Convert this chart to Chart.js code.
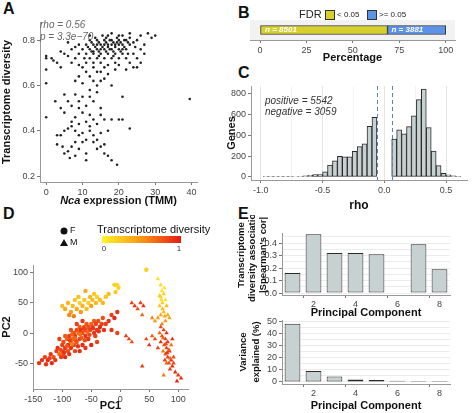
<!DOCTYPE html>
<html>
<head>
<meta charset="utf-8">
<script src="https://cdn.jsdelivr.net/npm/chart.js@4.4.0/dist/chart.umd.min.js"></script>
<style>
  body { margin: 0; background: #fff; width: 474px; height: 413px; position: relative; overflow: hidden; font-family: "Liberation Sans", Arial, sans-serif; }
  canvas { position: absolute; }
  .lab { position: absolute; font-weight: bold; font-size: 16px; color: #111; }
</style>
</head>
<body>
<div class="lab" style="left:3px;top:0px">A</div>
<div class="lab" style="left:238px;top:4px">B</div>
<div class="lab" style="left:238px;top:64px">C</div>
<div class="lab" style="left:3px;top:205px">D</div>
<div class="lab" style="left:238px;top:205px">E</div>

<canvas id="cA" width="237" height="210" style="left:0;top:0"></canvas>
<canvas id="cB" width="237" height="65" style="left:237px;top:0"></canvas>
<canvas id="cC" width="269" height="148" style="left:205px;top:65px"></canvas>
<canvas id="cD" width="237" height="208" style="left:0;top:205px"></canvas>
<canvas id="cE1" width="237" height="105" style="left:237px;top:215px"></canvas>
<canvas id="cE2" width="237" height="103" style="left:237px;top:310px"></canvas>

<script>
// ---- data ----
// A: Nca expression (TMM) vs transcriptome diversity
const ncaPoints = [
  [0,0.73],[0,0.72],[0,0.67],[0,0.61],[0,0.46],
  [1.5,0.72],[2,0.71],[3,0.70],[4,0.75],[5,0.74],[4,0.68],[6,0.73],[5,0.56],[6,0.79],[7,0.76],[8,0.77],[8,0.72],[9,0.78],[7,0.70],[9,0.74],
  [10,0.76],[11,0.78],[12,0.80],[12,0.76],[13,0.74],[13,0.78],[14,0.80],[14,0.76],[15,0.78],[15,0.74],[16,0.80],[16,0.76],[17,0.78],[17,0.82],[18,0.80],[18,0.76],[19,0.78],[19,0.74],[20,0.80],[20,0.76],[21,0.78],[21,0.82],[22,0.80],[22,0.76],[23,0.78],[23,0.81],[24,0.79],[25,0.80],[26,0.82],[27,0.78],[28,0.83],[29,0.81],[30,0.82],
  [11,0.74],[12,0.72],[13,0.70],[14,0.72],[15,0.70],[16,0.72],[17,0.74],[18,0.72],[19,0.70],[20,0.72],[21,0.74],[22,0.72],[23,0.70],[24,0.74],[25,0.72],[26,0.70],
  [11.5,0.77],[12.5,0.79],[13.5,0.81],[14.5,0.79],[15.5,0.82],[16.5,0.79],[17.5,0.76],[18.5,0.79],[19.5,0.81],[20.5,0.79],[21.5,0.77],[22.5,0.79],[24.5,0.77],
  [13,0.75],[15,0.76],[17,0.77],[19,0.77],[21,0.76],[14,0.78],[16,0.78],[18,0.78],[20,0.78],[12,0.82],[18,0.83],[20,0.82],[23,0.83],[26,0.76],[27,0.74],[25,0.68],
  [12.5,0.75],[14.5,0.75],[16.5,0.75],[18.5,0.75],[20.5,0.75],[13.5,0.77],[15.5,0.77],[17.5,0.80],[19.5,0.79],[21.5,0.80],[16.5,0.81],[14.5,0.73],[18.5,0.73],[22.5,0.74],[10.5,0.72],
  [10,0.68],[11,0.66],[12,0.64],[13,0.68],[14,0.66],[15,0.62],[16,0.68],[17,0.65],[18,0.60],[19,0.67],[20,0.69],[9,0.64],[8,0.62],[10,0.61],[12,0.58],[14,0.60],[16,0.63],[13,0.62],[15,0.66],[17,0.69],[24,0.68],[22,0.67],[11,0.70],[9,0.69],
  [6,0.53],[5,0.48],[7,0.51],[8,0.56],[9,0.53],[10,0.55],[11,0.51],[12,0.55],[13,0.53],[14,0.57],[15,0.50],[12,0.47],[10,0.48],[8,0.46],[7,0.44],[9,0.43],[11,0.44],[13,0.45],[14,0.43],[15,0.47],[16,0.45],[17,0.40],[18,0.45],[20,0.45],[21,0.45],[23,0.41],
  [3,0.38],[4,0.38],[5,0.40],[6,0.41],[7,0.42],[8,0.40],[9,0.38],[10,0.39],[11,0.36],[12,0.40],[13,0.38],[14,0.36],[15,0.33],[16,0.34],[4.5,0.33],[5,0.30],[6,0.31],[7,0.33],[8,0.29],[9,0.32],[6.5,0.28],[11,0.30],[14,0.32],[16,0.30],[17,0.29],[18,0.27],[19.5,0.25],[11,0.27],[3,0.34],[2.5,0.53],[4,0.50],[9,0.50],[12,0.42],[8,0.35],[10,0.35],[13,0.35],[15,0.39],
  [39.5,0.54],[21,0.55]
];
const ncaTicksX = [0, 10, 20, 30, 40];
const ncaTicksY = [0.2, 0.4, 0.6, 0.8];

// B: FDR split
const fdrLabels = ['< 0.05', '>= 0.05'];
const fdrCounts = [8501, 3881];
const fdrColors = ['#d6cf2c', '#5b93ea'];

// C: histogram of rho (bin centres, width 0.04)
const rhoNegCenters = [-0.08,-0.12,-0.16,-0.20,-0.24,-0.28,-0.32,-0.36,-0.40,-0.44,-0.48,-0.52,-0.56,-0.60,-0.64,-0.68,-0.72,-0.76,-0.80,-0.84,-0.88,-0.92,-0.96];
const rhoNegCounts  = [576, 488, 319, 293, 247, 195, 195, 198, 156, 114, 49, 23, 23, 16, 10, 7, 5, 4, 3, 3, 2, 2, 2];
const rhoPosCenters = [0.08,0.12,0.16,0.20,0.24,0.28,0.32,0.36,0.40,0.44,0.48,0.52,0.56,0.60];
const rhoPosCounts  = [365, 455, 415, 485, 590, 745, 848, 477, 250, 110, 35, 20, 10, 4];
const rhoCutoff = 0.06;

// D: PCA [PC1, PC2, diversity, sex]
const pcaPoints = [
  [-140,-50,0.9,'F'],[-130,-40,0.85,'F'],[-125,-45,0.95,'F'],[-120,-35,0.9,'F'],[-115,-40,0.8,'F'],[-110,-30,0.85,'F'],[-108,-25,0.9,'F'],[-105,-35,0.7,'F'],[-100,-20,0.85,'F'],[-100,-30,0.75,'F'],
  [-98,-15,0.8,'F'],[-95,-25,0.9,'F'],[-92,-10,0.7,'F'],[-90,-20,0.95,'F'],[-90,-30,0.8,'F'],[-88,-5,0.85,'F'],[-85,-15,0.75,'F'],[-85,-25,0.9,'F'],[-82,-10,0.65,'F'],[-80,-20,0.85,'F'],
  [-80,0,0.8,'F'],[-78,-5,0.9,'F'],[-75,-15,0.75,'F'],[-75,5,0.8,'F'],[-72,0,0.7,'F'],[-70,-10,0.85,'F'],[-70,10,0.75,'F'],[-68,5,0.9,'F'],[-65,0,0.8,'F'],[-65,-20,0.95,'F'],
  [-62,10,0.7,'F'],[-60,5,0.85,'F'],[-60,-5,0.9,'F'],[-58,15,0.75,'F'],[-55,10,0.8,'F'],[-55,-10,0.9,'F'],[-52,5,0.85,'F'],[-50,15,0.7,'F'],[-48,10,0.8,'F'],[-45,0,0.9,'F'],
  [-45,20,0.75,'F'],[-42,15,0.85,'F'],[-40,5,0.9,'F'],[-38,20,0.8,'F'],[-35,10,0.95,'F'],[-32,15,0.85,'F'],[-30,25,0.8,'F'],[-28,5,0.9,'F'],[-25,15,0.85,'F'],[-20,20,0.9,'F'],
  [-15,30,0.85,'F'],[-10,25,0.95,'F'],[-5,35,0.9,'F'],[-118,-50,0.95,'F'],[-112,-45,0.9,'F'],[-102,-40,0.85,'F'],[-95,-40,0.95,'F'],[-88,-35,0.9,'F'],[-78,-30,0.85,'F'],[-70,-30,0.95,'F'],
  [-60,-25,0.9,'F'],[-50,-20,0.95,'F'],[-40,-15,0.85,'F'],[-95,-5,0.75,'F'],[-85,5,0.8,'F'],[-75,15,0.85,'F'],[-65,20,0.9,'F'],[-105,-10,0.85,'F'],[-98,-35,0.8,'F'],[-135,-45,0.9,'F'],
  [-92,-22,0.75,'F'],[-87,-12,0.85,'F'],[-83,-2,0.7,'F'],[-77,-12,0.8,'F'],[-73,-22,0.9,'F'],[-67,-8,0.75,'F'],[-63,8,0.85,'F'],[-57,2,0.7,'F'],[-53,-3,0.8,'F'],[-47,8,0.9,'F'],
  [-103,-28,0.8,'F'],[-97,-32,0.9,'F'],[-83,-18,0.6,'F'],[-79,-8,0.7,'F'],[-69,-2,0.65,'F'],[-61,-12,0.8,'F'],[-43,-5,0.85,'F'],[-37,3,0.9,'F'],[-122,-42,0.85,'F'],[-128,-52,0.9,'F'],
  [-100,45,0.3,'F'],[-95,40,0.4,'F'],[-90,50,0.35,'F'],[-85,35,0.45,'F'],[-82,45,0.3,'F'],[-78,55,0.25,'F'],[-75,40,0.4,'F'],[-72,60,0.3,'F'],[-70,50,0.2,'F'],[-68,35,0.5,'F'],
  [-65,45,0.35,'F'],[-62,55,0.25,'F'],[-60,70,0.4,'F'],[-58,40,0.3,'F'],[-55,50,0.2,'F'],[-52,60,0.35,'F'],[-50,45,0.45,'F'],[-48,55,0.3,'F'],[-45,65,0.25,'F'],[-42,50,0.35,'F'],
  [-40,60,0.2,'F'],[-35,55,0.3,'F'],[-30,50,0.35,'F'],[-25,60,0.25,'F'],[-20,65,0.3,'F'],[-88,30,0.55,'F'],[-80,28,0.6,'F'],[-5,80,0.15,'F'],[-3,75,0.2,'F'],[-8,68,0.25,'F'],
  [-10,80,0.2,'F'],[45,105,0.2,'F'],
  [20,50,0.85,'M'],[25,45,0.9,'M'],[30,40,0.8,'M'],[35,50,0.85,'M'],[40,45,0.9,'M'],[38,30,0.7,'M'],[15,-10,0.85,'M'],[10,-5,0.9,'M'],[20,-15,0.8,'M'],[-5,0,0.85,'F'],
  [-15,5,0.9,'F'],[38,-55,0.85,'M'],[50,-20,0.9,'M'],[45,-10,0.8,'M'],
  [65,90,0.1,'M'],[70,80,0.15,'M'],[72,70,0.1,'M'],[75,65,0.2,'M'],[70,60,0.15,'M'],[78,55,0.1,'M'],[73,50,0.2,'M'],[68,45,0.25,'M'],[80,45,0.3,'M'],[75,35,0.3,'M'],
  [70,30,0.4,'M'],[65,25,0.45,'M'],[82,30,0.35,'M'],[78,20,0.5,'M'],[72,15,0.55,'M'],[85,25,0.4,'M'],[60,20,0.5,'M'],[55,25,0.55,'M'],[76,75,0.1,'M'],[68,62,0.2,'M'],
  [70,10,0.8,'M'],[75,5,0.85,'M'],[80,0,0.9,'M'],[72,-5,0.75,'M'],[78,-10,0.85,'M'],[82,-15,0.9,'M'],[76,-20,0.8,'M'],[80,-25,0.85,'M'],[85,-30,0.9,'M'],[78,-35,0.75,'M'],
  [82,-40,0.85,'M'],[88,-45,0.9,'M'],[84,-50,0.8,'M'],[90,-55,0.9,'M'],[86,-60,0.85,'M'],[95,-65,0.95,'M'],[100,-70,0.9,'M'],[98,-80,0.95,'M'],[105,-75,0.9,'M'],[92,-40,0.8,'M'],
  [70,-15,0.9,'M'],[65,-25,0.85,'M'],[60,-10,0.8,'M'],[55,-5,0.75,'M'],[88,-20,0.65,'M'],[74,-30,0.6,'M'],[80,-50,0.7,'M'],[75,-70,0.6,'M'],[68,0,0.7,'M'],[90,-10,0.9,'M'],
  [74,-8,0.7,'M'],[79,-18,0.8,'M'],[84,-28,0.75,'M'],[81,-33,0.9,'M'],[86,-42,0.7,'M'],[77,-45,0.85,'M'],[92,-50,0.8,'M'],[73,40,0.3,'M'],[77,28,0.4,'M'],[71,55,0.15,'M']
];
const pcaTicksX = [-150, -100, -50, 0, 50, 100];
const pcaTicksY = [-50, 0, 50, 100];

// E: principal components
const pcLabels = ['1','2','3','4','5','6','7','8'];
const pcAssoc = [0.16, 0.47, 0.32, 0.32, 0.31, 0.005, 0.39, 0.19];
const pcVariance = [48, 9, 4.5, 2, 1.5, 1, 0.8, 0.8];

// ---- helpers ----
Chart.defaults.font.family = '"Liberation Sans", Arial, sans-serif';
Chart.defaults.font.size = 9;
Chart.defaults.color = '#444';
Chart.defaults.animation = false;
Chart.defaults.plugins.legend.display = false;
Chart.defaults.plugins.tooltip.enabled = false;

function axis(min, max, ticks, extra) {
  return Object.assign({
    type: 'linear', min: min, max: max,
    afterBuildTicks: s => { s.ticks = ticks.map(v => ({ value: v })); },
    grid: { drawOnChartArea: false, tickLength: 3, color: '#777' },
    border: { color: '#999' },
    ticks: { color: '#444', padding: 2 }
  }, extra || {});
}
function fixArea(opts, l, t, r, b, W, H) {
  opts.layout = { padding: { left: 0, top: t, right: W - r, bottom: 0 } };
  const x = opts.scales.x, y = opts.scales.y;
  const xh = H - b;
  x.afterFit = s => { s.height = xh; };
  if (y) y.afterFit = s => { s.width = l; };
  return opts;
}
function isMult(v, step) {
  return Math.abs(v / step - Math.round(v / step)) < 1e-6;
}
function divColor(v) {
  // yellow -> orange -> red
  const stops = [[0, [255, 245, 40]], [0.5, [250, 150, 20]], [1, [232, 25, 20]]];
  let a = stops[0], b = stops[1];
  if (v > 0.5) { a = stops[1]; b = stops[2]; }
  const t = (v - a[0]) / (b[0] - a[0]);
  const c = a[1].map((ch, i) => Math.round(ch + (b[1][i] - ch) * t));
  return 'rgb(' + c.join(',') + ')';
}
const boldTitle = { weight: 'bold', size: 11 };

// ---- A ----
const optA = fixArea({
  responsive: false,
  scales: {
    x: axis(-1.7, 41.5, ncaTicksX, { title: { display: false } }),
    y: axis(0.174, 0.88, ncaTicksY, {
      ticks: { color: '#444', padding: 2, callback: v => v.toFixed(1) },
      title: { display: true, text: 'Transcriptome diversity', font: boldTitle, color: '#111', padding: 0 }
    })
  }
}, 40, 22, 197, 182, 237, 210);
new Chart(document.getElementById('cA'), {
  type: 'scatter',
  data: { datasets: [{ data: ncaPoints.map(p => ({ x: p[0], y: p[1] })), pointRadius: 1.3, backgroundColor: '#222', borderWidth: 0 }] },
  options: optA,
  plugins: [{
    id: 'txtA',
    afterDraw(c) {
      const g = c.ctx;
      g.save();
      g.fillStyle = '#666';
      g.font = 'italic 10px "Liberation Sans", Arial';
      g.textBaseline = 'middle';
      g.fillText('rho = 0.56', 40, 25);
      g.fillText('p = 3.3e\u221270', 40, 37);
      g.fillStyle = '#111';
      g.font = 'bold italic 11px "Liberation Sans", Arial';
      const w1 = g.measureText('Nca').width;
      g.font = 'bold 11px "Liberation Sans", Arial';
      const rest = ' expression (TMM)';
      const w2 = g.measureText(rest).width;
      const x0 = (40 + 197) / 2 - (w1 + w2) / 2;
      g.font = 'bold italic 11px "Liberation Sans", Arial';
      g.fillText('Nca', x0, 201);
      g.font = 'bold 11px "Liberation Sans", Arial';
      g.fillText(rest, x0 + w1, 201);
      g.restore();
    }
  }]
});

// ---- B ----
const fdrTotal = fdrCounts[0] + fdrCounts[1];
const optB = fixArea({
  responsive: false,
  indexAxis: 'y',
  scales: {
    x: axis(-5.4, 105, [0, 25, 50, 75, 100], {
      stacked: true,
      title: { display: true, text: 'Percentage', font: boldTitle, color: '#111', padding: { top: 4, bottom: 0 } }
    }),
    y: { stacked: true, display: false }
  }
}, 13, 20, 218, 40, 237, 65);
optB.layout.padding.left = 13;
optB.scales.y.afterFit = undefined;
new Chart(document.getElementById('cB'), {
  type: 'bar',
  data: {
    labels: ['FDR'],
    datasets: fdrCounts.map((n, i) => ({
      label: fdrLabels[i], data: [n / fdrTotal * 100], backgroundColor: fdrColors[i],
      borderColor: '#333', borderWidth: 1, barThickness: 9, borderSkipped: false
    }))
  },
  options: optB,
  plugins: [{
    id: 'bgB',
    beforeDraw(c) {
      const a = c.chartArea, g = c.ctx;
      g.save(); g.fillStyle = '#f2f2f2'; g.fillRect(a.left, a.top, a.right - a.left, a.bottom - a.top); g.restore();
    },
    afterDraw(c) {
      const g = c.ctx, xs = c.scales.x;
      g.save();
      g.textBaseline = 'middle';
      g.fillStyle = '#fff';
      g.font = 'bold italic 8px "Liberation Sans", Arial';
      const yb = c.getDatasetMeta(0).data[0].y;
      g.fillText('n = ' + fdrCounts[0], xs.getPixelForValue(0) + 5, yb);
      g.fillText('n = ' + fdrCounts[1], xs.getPixelForValue(fdrCounts[0] / fdrTotal * 100) + 4, yb);
      // legend
      g.fillStyle = '#222';
      g.font = '11px "Liberation Sans", Arial';
      g.fillText('FDR', 62, 15);
      g.font = '8px "Liberation Sans", Arial';
      [[88, 0, 100], [130, 1, 142]].forEach(([bx, i, tx]) => {
        g.fillStyle = fdrColors[i]; g.fillRect(bx, 10, 9, 9);
        g.strokeStyle = '#333'; g.lineWidth = 1; g.strokeRect(bx + 0.5, 10.5, 9, 9);
        g.fillStyle = '#222'; g.fillText(fdrLabels[i], tx, 15);
      });
      g.restore();
    }
  }]
});

// ---- C ----
const histData = rhoNegCenters.map((x, i) => ({ x: x, y: rhoNegCounts[i] }))
  .concat(rhoPosCenters.map((x, i) => ({ x: x, y: rhoPosCounts[i] })))
  .sort((a, b) => a.x - b.x);
const optC = fixArea({
  responsive: false,
  scales: {
    x: axis(-1.08, 0.67, [-1, -0.75, -0.5, -0.25, 0, 0.25, 0.5], {
      offset: false,
      grid: {
        offset: false, drawOnChartArea: true, tickLength: 3,
        color: ctx => (ctx.tick && isMult(ctx.tick.value, 0.5)) ? '#e4e4e4' : '#f3f3f3',
        tickColor: ctx => (ctx.tick && isMult(ctx.tick.value, 0.5)) ? '#777' : 'rgba(0,0,0,0)'
      },
      ticks: { color: '#444', padding: 2, autoSkip: false, maxRotation: 0, callback: v => isMult(v, 0.5) ? v.toFixed(1) : '' },
      title: { display: true, text: 'rho', font: { weight: 'bold', size: 12 }, color: '#111', padding: 0 }
    }),
    y: axis(-29, 877, [0, 200, 400, 600, 800], {
      title: { display: true, text: 'Genes', font: boldTitle, color: '#111', padding: { top: 20, bottom: 0 } }
    })
  }
}, 46, 21, 262, 115, 269, 148);
new Chart(document.getElementById('cC'), {
  type: 'bar',
  data: { datasets: [{ data: histData, backgroundColor: '#c8d1d1', borderColor: '#2a2a2a', borderWidth: 1, barPercentage: 1, categoryPercentage: 1, borderSkipped: false }] },
  options: optC,
  plugins: [{
    id: 'txtC',
    afterDatasetsDraw(c) {
      const g = c.ctx, xs = c.scales.x, a = c.chartArea;
      g.save();
      g.strokeStyle = '#5a7fc0'; g.lineWidth = 1; g.setLineDash([4, 3]);
      [-rhoCutoff, rhoCutoff].forEach(v => {
        const px = Math.round(xs.getPixelForValue(v)) + 0.5;
        g.beginPath(); g.moveTo(px, a.top); g.lineTo(px, a.bottom); g.stroke();
      });
      g.setLineDash([]);
      g.fillStyle = '#333';
      g.font = 'italic 10px "Liberation Sans", Arial';
      g.textBaseline = 'middle';
      g.fillText('positive = 5542', 60, 36);
      g.fillText('negative = 3059', 60, 47);
      g.restore();
    }
  }]
});

// ---- D ----
const optD = fixArea({
  responsive: false,
  scales: {
    x: axis(-150.5, 117, pcaTicksX, { title: { display: true, text: 'PC1', font: boldTitle, color: '#111', padding: 0 } }),
    y: axis(-93, 113, pcaTicksY, { title: { display: true, text: 'PC2', font: boldTitle, color: '#111', padding: 0 } })
  }
}, 33, 60, 188, 184, 237, 208);
function pcaSet(sex) {
  const pts = pcaPoints.filter(p => p[3] === sex);
  return {
    data: pts.map(p => ({ x: p[0], y: p[1] })),
    backgroundColor: pts.map(p => divColor(p[2])),
    pointStyle: sex === 'F' ? 'circle' : 'triangle',
    pointRadius: sex === 'F' ? 2.2 : 2.6, borderWidth: 0
  };
}
new Chart(document.getElementById('cD'), {
  type: 'scatter',
  data: { datasets: [pcaSet('F'), pcaSet('M')] },
  options: optD,
  plugins: [{
    id: 'legD',
    afterDraw(c) {
      const g = c.ctx;
      g.save();
      g.fillStyle = '#111';
      g.beginPath(); g.arc(64, 26, 3.5, 0, Math.PI * 2); g.fill();
      g.beginPath(); g.moveTo(64, 34); g.lineTo(68, 41); g.lineTo(60, 41); g.closePath(); g.fill();
      g.font = '9px "Liberation Sans", Arial';
      g.textBaseline = 'middle';
      g.fillText('F', 70, 26);
      g.fillText('M', 70, 38);
      g.font = '11px "Liberation Sans", Arial';
      g.fillText('Transcriptome diversity', 97, 25);
      const gr = g.createLinearGradient(102, 0, 181, 0);
      [0, 0.25, 0.5, 0.75, 1].forEach(v => gr.addColorStop(v, divColor(v)));
      g.fillStyle = gr; g.fillRect(102, 31, 79, 7);
      g.fillStyle = '#333'; g.font = '8px "Liberation Sans", Arial';
      g.textAlign = 'center';
      g.fillText('0', 104, 44); g.fillText('1', 179, 44);
      g.restore();
    }
  }]
});

// ---- E ----
function pcOpts(ymin, ymax, grids, labelEvery, fmt, l, t, r, b, H) {
  return fixArea({
    responsive: false,
    scales: {
      x: {
        type: 'category', offset: true,
        grid: { drawOnChartArea: false, tickLength: 3, color: ctx => (ctx.index % 2 === 1) ? '#777' : 'rgba(0,0,0,0)' },
        border: { color: '#999' },
        ticks: { color: '#444', padding: 1, autoSkip: false, callback: (v, i) => (i % 2 === 1) ? pcLabels[i] : '' },
        title: { display: true, text: 'Principal Component', font: boldTitle, color: '#111', padding: 0 }
      },
      y: axis(ymin, ymax, grids, {
        grid: {
          drawOnChartArea: true, tickLength: 3,
          color: '#ececec',
          tickColor: ctx => (ctx.tick && isMult(ctx.tick.value, labelEvery)) ? '#777' : 'rgba(0,0,0,0)'
        },
        ticks: { color: '#444', padding: 2, autoSkip: false, callback: v => isMult(v, labelEvery) ? fmt(v) : '' }
      })
    }
  }, l, t, r, b, 237, H);
}
function rotText(lines, xs, cy) {
  return {
    id: 'ytitle',
    afterDraw(c) {
      const g = c.ctx;
      g.save();
      g.fillStyle = '#111';
      g.font = 'bold 9.5px "Liberation Sans", Arial';
      g.textAlign = 'center'; g.textBaseline = 'middle';
      lines.forEach((s, i) => {
        g.save(); g.translate(xs[i], cy); g.rotate(-Math.PI / 2); g.fillText(s, 0, 0); g.restore();
      });
      g.restore();
    }
  };
}
const barStyle = { backgroundColor: '#c8d1d1', borderColor: '#2a2a2a', borderWidth: 1, barPercentage: 0.75, categoryPercentage: 1, borderSkipped: false };

new Chart(document.getElementById('cE1'), {
  type: 'bar',
  data: { labels: pcLabels, datasets: [Object.assign({ data: pcAssoc }, barStyle)] },
  options: pcOpts(-0.015, 0.48, [0, 0.05, 0.1, 0.15, 0.2, 0.25, 0.3, 0.35, 0.4, 0.45], 0.1, v => v.toFixed(1), 45, 18, 213, 80, 105),
  plugins: [rotText(['Transcriptome', 'diversity association', '|Spearman\'s cor|'], [4, 15, 26], 40)]
});
new Chart(document.getElementById('cE2'), {
  type: 'bar',
  data: { labels: pcLabels, datasets: [Object.assign({ data: pcVariance }, barStyle)] },
  options: pcOpts(-1.7, 51, [0, 5, 10, 15, 20, 25, 30, 35, 40, 45, 50], 10, v => String(v), 45, 10, 213, 74, 103),
  plugins: [rotText(['Variance', 'explained (%)'], [6, 19], 42)]
});
</script>
</body>
</html>
